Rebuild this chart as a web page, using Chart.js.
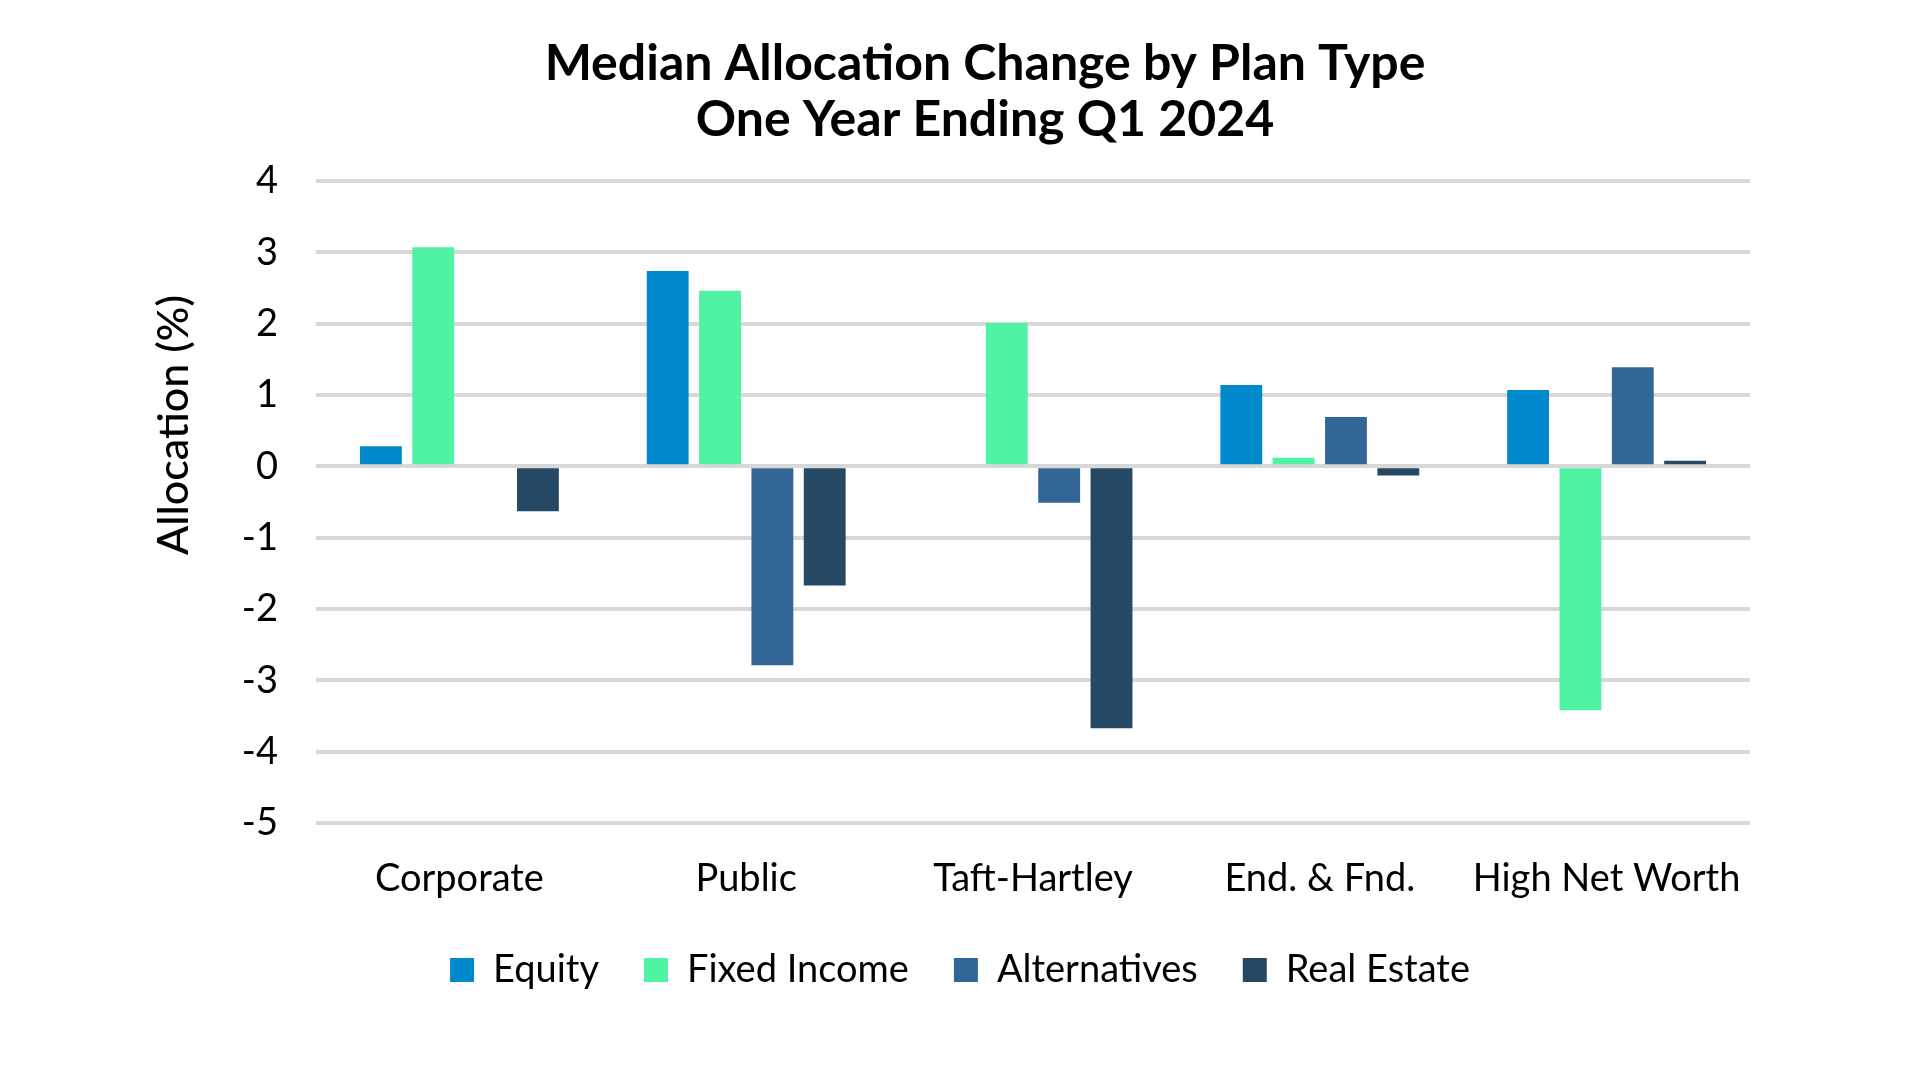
<!DOCTYPE html>
<html>
<head>
<meta charset="utf-8">
<script src="https://cdn.jsdelivr.net/npm/chart.js@4.4.1/dist/chart.umd.min.js"></script>
<style>
    html, body { margin: 0; padding: 0; background: #fff; }
    #wrap { width: 1920px; height: 1080px; }
</style>
</head>
<body>
<div id="wrap"><canvas id="allocChart" width="1920" height="1080"></canvas></div>
<script>
// ------------------------------------------------------------------ data
const planTypes = ['Corporate', 'Public', 'Taft-Hartley', 'End. & Fnd.', 'High Net Worth'];
const equity = [0.28, 2.74, null, 1.14, 1.07];
const fixedIncome = [3.07, 2.46, 2.01, 0.12, -3.42];
const alternatives = [null, -2.79, -0.51, 0.69, 1.39];
const realEstate = [-0.63, -1.67, -3.67, -0.13, 0.08];
const yMin = -5, yMax = 4, yStep = 1;

const seriesNames = ['Equity', 'Fixed Income', 'Alternatives', 'Real Estate'];
const seriesColors = ['#0089cd', '#50f2a4', '#326697', '#254965'];
const titleLines = ['Median Allocation Change by Plan Type', 'One Year Ending Q1 2024'];
const yAxisTitle = 'Allocation (%)';

// ------------------------------------------------------------------ chart
const tickFont = { family: 'Lato', size: 38 };

// titles are placed off-centre in the source, so draw them here
const titlesPlugin = {
    id: 'titles',
    afterDraw(chart) {
        const c = chart.ctx;
        c.save();
        c.fillStyle = '#000';
        c.textAlign = 'center';
        c.textBaseline = 'middle';

        c.font = 'bold 50px Lato';
        titleLines.forEach((line, i) => c.fillText(line, 985, 64 + i * 56));

        c.translate(174, 425);
        c.rotate(-Math.PI / 2);
        c.font = '500 43px Lato';
        c.fillText(yAxisTitle, 0, 0);
        c.restore();
    }
};

const ctx = document.getElementById('allocChart').getContext('2d');
new Chart(ctx, {
    type: 'bar',
    data: {
        labels: planTypes,
        datasets: [equity, fixedIncome, alternatives, realEstate].map((vals, i) => ({
            label: seriesNames[i],
            data: vals,
            backgroundColor: seriesColors[i],
            borderWidth: 0,
            categoryPercentage: 0.73,
            barPercentage: 0.8
        }))
    },
    options: {
        responsive: false,
        devicePixelRatio: 1,
        animation: false,
        layout: { padding: { left: 0, right: 0, top: 181, bottom: 81 } },
        plugins: {
            title: { display: false },
            legend: {
                position: 'bottom',
                labels: {
                    color: '#000',
                    font: tickFont,
                    boxWidth: 24,
                    boxHeight: 24,
                    padding: 45
                }
            },
            tooltip: { enabled: false }
        },
        scales: {
            x: {
                grid: { display: false, drawTicks: false },
                border: { display: false },
                ticks: { color: '#000', font: tickFont, padding: 33, maxRotation: 0 },
                afterFit: (scale) => { scale.height = 83; }
            },
            y: {
                min: yMin,
                max: yMax,
                ticks: { stepSize: yStep, color: '#000', font: tickFont, padding: 38 },
                grid: { color: '#d8d8d8', lineWidth: 4, drawTicks: false },
                border: { display: false },
                afterFit: (scale) => { scale.width = 316; }
            },
            // blank right-hand axis keeps the plot area where the reference has it
            yRight: {
                position: 'right',
                grid: { display: false },
                border: { display: false },
                ticks: { display: false },
                afterFit: (scale) => { scale.width = 170; }
            }
        }
    },
    plugins: [titlesPlugin]
});
</script>
</body>
</html>
